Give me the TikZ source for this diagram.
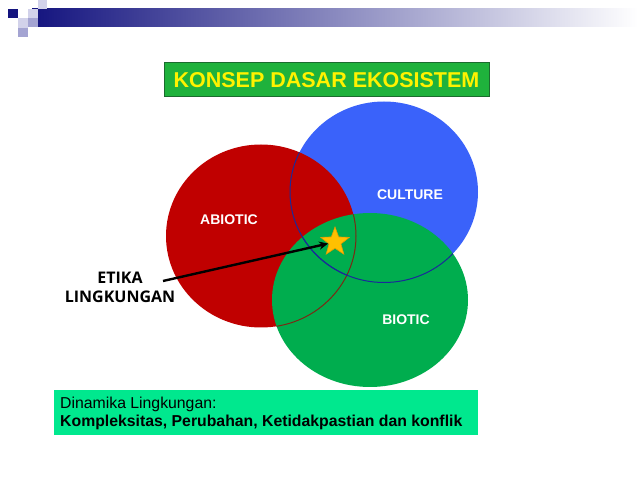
\documentclass[tikz,border=0pt]{standalone}
\usepackage{fontspec}
\setmainfont{Liberation Sans}
\newfontfamily\etikafont{Open Sans}
\usetikzlibrary{shapes.geometric, positioning, arrows.meta}

\definecolor{headnavy}{HTML}{14147F}
\definecolor{headlight}{HTML}{D2D2EA}
\definecolor{headmid}{HTML}{A4A4D2}
\definecolor{titlegreen}{HTML}{1FB23C}
\definecolor{titleborder}{HTML}{1B6B2E}
\definecolor{abioticred}{HTML}{C00000}
\definecolor{abioticline}{HTML}{7A2A14}
\definecolor{cultureblue}{HTML}{3A62FA}
\definecolor{cultureline}{HTML}{1A2A9A}
\definecolor{bioticgreen}{HTML}{00AD4E}
\definecolor{stargold}{HTML}{FFC000}
\definecolor{starline}{HTML}{E89A00}
\definecolor{boxmint}{HTML}{00E88E}

\begin{document}
\begin{tikzpicture}[x=1pt,y=-1pt]
        \tikzstyle{every node}+=[inner sep=0pt]
        \tikzstyle{blob}=[ellipse, draw=none]
        \tikzstyle{bloblabel}=[text=white, font=\bfseries\fontsize{14}{16}\selectfont]
        \useasboundingbox (0,0) rectangle (638,478);
        % header bar and squares
        \shade [left color=headnavy, right color=white] (32,9) rectangle (638,27);
        \fill [headnavy] (8,9) rectangle (18,18);
        \fill [headlight] (28,9) rectangle (38,18);
        \fill [headlight] (38,0) rectangle (47,9);
        \fill [headlight] (18,18) rectangle (28,28);
        \fill [headmid] (28,18) rectangle (38,27);
        \fill [headmid] (18,28) rectangle (28,37);
        % title
        \node [fill=titlegreen, draw=titleborder, line width=1pt, minimum width=325pt, minimum height=34pt,
               text=yellow, font=\bfseries\fontsize{21.5}{24}\selectfont] (title) at (326.5,80) {KONSEP DASAR EKOSISTEM};
        % the three circles
        \node [blob, fill=cultureblue, minimum width=188pt, minimum height=181pt] (culture) at (384,192) {};
        \node [blob, fill=abioticred, minimum width=190pt, minimum height=183pt] (abiotic) at (261,236) {};
        \node [blob, fill=bioticgreen, minimum width=196pt, minimum height=174pt] (biotic) at (370,300) {};
        % outlines only where the circles overlap
        \begin{scope}
          \clip (biotic.center) ellipse [x radius=98pt, y radius=87pt];
          \draw [abioticline, line width=1pt] (abiotic.center) ellipse [x radius=95pt, y radius=91.5pt];
          \draw [cultureline, line width=1pt] (culture.center) ellipse [x radius=94pt, y radius=90.5pt];
        \end{scope}
        \begin{scope}
          \clip (abiotic.center) ellipse [x radius=95pt, y radius=91.5pt];
          \draw [cultureline, line width=1pt] (culture.center) ellipse [x radius=94pt, y radius=90.5pt];
        \end{scope}
        \node [bloblabel] (abioticlabel) at (229,220) {ABIOTIC};
        \node [bloblabel] (culturelabel) at (410,195) {CULTURE};
        \node [bloblabel] (bioticlabel) at (406,320) {BIOTIC};
        % star and arrow
        \node [star, star points=5, star point ratio=2.4, minimum size=30pt, fill=stargold, draw=starline, line width=0.6pt] (etikastar) at (335,242) {};
        \node [align=center, font=\etikafont\bfseries\fontsize{16}{19}\selectfont] (etika) at (120,287) {ETIKA\\LINGKUNGAN};
        \coordinate (arrowtail) at (163,281);
        \draw [black, line width=2.4pt, -{Stealth[length=9pt, width=8pt]}] (arrowtail) -- (etikastar);
        % dynamics box
        \node [fill=boxmint, minimum width=424pt, minimum height=45pt, anchor=north west] (dinamika) at (54,390) {};
        \node [anchor=west, align=left, font=\fontsize{15.8}{18}\selectfont] (dinamikatext) at ([xshift=6pt,yshift=-1pt]dinamika.west)
              {Dinamika Lingkungan:\\\textbf{Kompleksitas, Perubahan, Ketidakpastian dan konflik}};
\end{tikzpicture}
\end{document}
